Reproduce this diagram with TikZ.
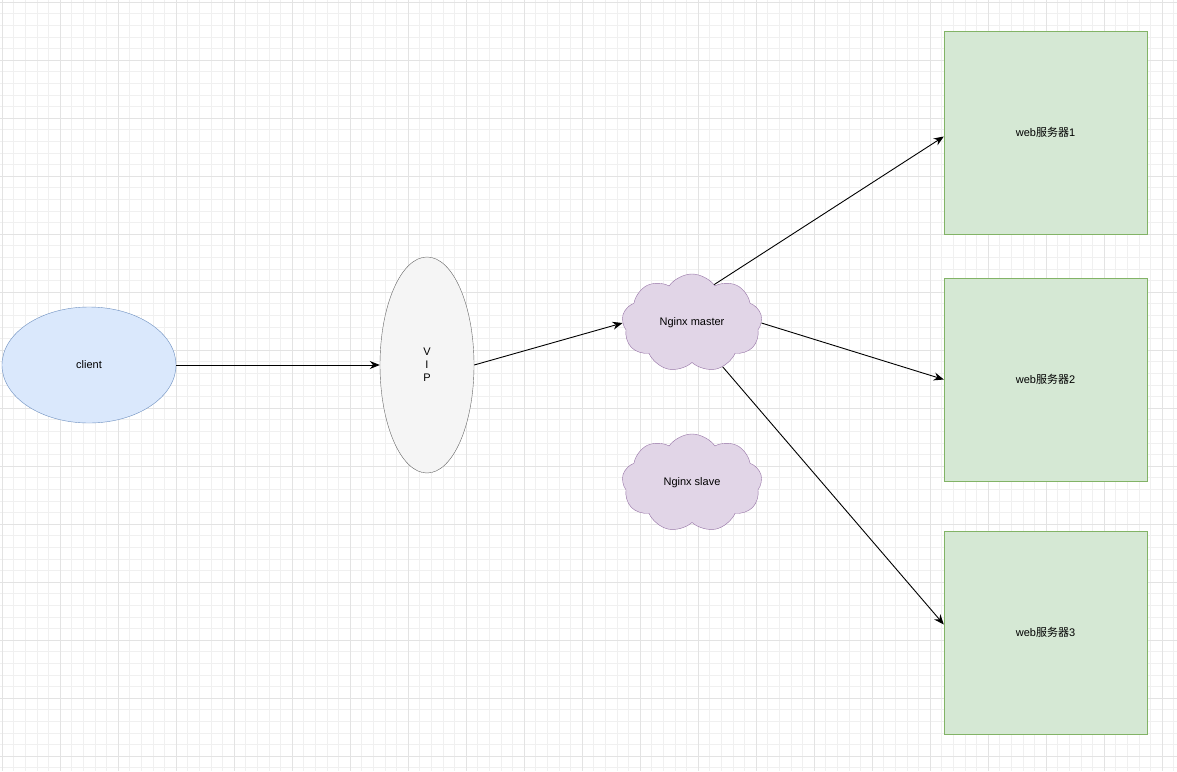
\documentclass[tikz,border=0pt]{standalone}
\usepackage{fontspec}
\setmainfont{Liberation Sans}
\newfontfamily\cjk{Noto Sans CJK SC}
\usetikzlibrary{shapes.geometric,shapes.symbols,arrows.meta}
\definecolor{cfill}{HTML}{DAE8FC}\definecolor{cdraw}{HTML}{6C8EBF}
\definecolor{vfill}{HTML}{F5F5F5}\definecolor{vdraw}{HTML}{666666}
\definecolor{nfill}{HTML}{E1D5E7}\definecolor{ndraw}{HTML}{9673A6}
\definecolor{wfill}{HTML}{D5E8D4}\definecolor{wdraw}{HTML}{82B366}
\begin{document}
\begin{tikzpicture}[x=1pt,y=-1pt,font=\fontsize{11}{13}\selectfont,
  ell/.style={ellipse,inner sep=0pt},
  cl/.style={cloud,cloud puffs=9,cloud puff arc=110,aspect=1.5,fill=nfill,draw=ndraw,inner sep=0pt,minimum width=140pt,minimum height=98pt},
  web/.style={rectangle,fill=wfill,draw=wdraw,minimum width=203pt,minimum height=203pt,inner sep=0pt},
  arr/.style={-{Stealth[length=10pt,width=8pt]},line width=0.9pt}]
\useasboundingbox (0,0) rectangle (1177,771);
\fill[white] (0,0) rectangle (1177,771);
\foreach \i in {0,...,101} {\draw[black!6,line width=0.6pt] (2+11.6*\i,0) -- (2+11.6*\i,771);}
\foreach \i in {0,...,66} {\draw[black!6,line width=0.6pt] (0,2+11.6*\i) -- (1177,2+11.6*\i);}
\foreach \i in {0,...,20} {\draw[black!11,line width=0.7pt] (2+58*\i,0) -- (2+58*\i,771);}
\foreach \i in {0,...,13} {\draw[black!11,line width=0.7pt] (0,2+58*\i) -- (1177,2+58*\i);}
\node[ell,fill=cfill,draw=cdraw,minimum width=174pt,minimum height=116pt] (client) at (89,365) {client};
\node[ell,fill=vfill,draw=vdraw,minimum width=94pt,minimum height=216pt,align=center] (vip) at (427,365) {V\\I\\P};
\node[cl] (master) at (692,323) {Nginx master};
\node[cl] (slave) at (692,483) {Nginx slave};
\node[web] (w1) at (1045.5,132.5) {web{\cjk 服务器}1};
\node[web] (w2) at (1045.5,379.5) {web{\cjk 服务器}2};
\node[web] (w3) at (1045.5,632.5) {web{\cjk 服务器}3};
\draw[arr] (client.east) -- (vip.west);
\draw[arr] (vip.east) -- (master.west);
\draw[arr] (master.60) -- ([yshift=-4pt]w1.west);
\draw[arr] (master.east) -- (w2.west);
\draw[arr] (master.-55) -- ([yshift=8pt]w3.west);
\end{tikzpicture}
\end{document}
